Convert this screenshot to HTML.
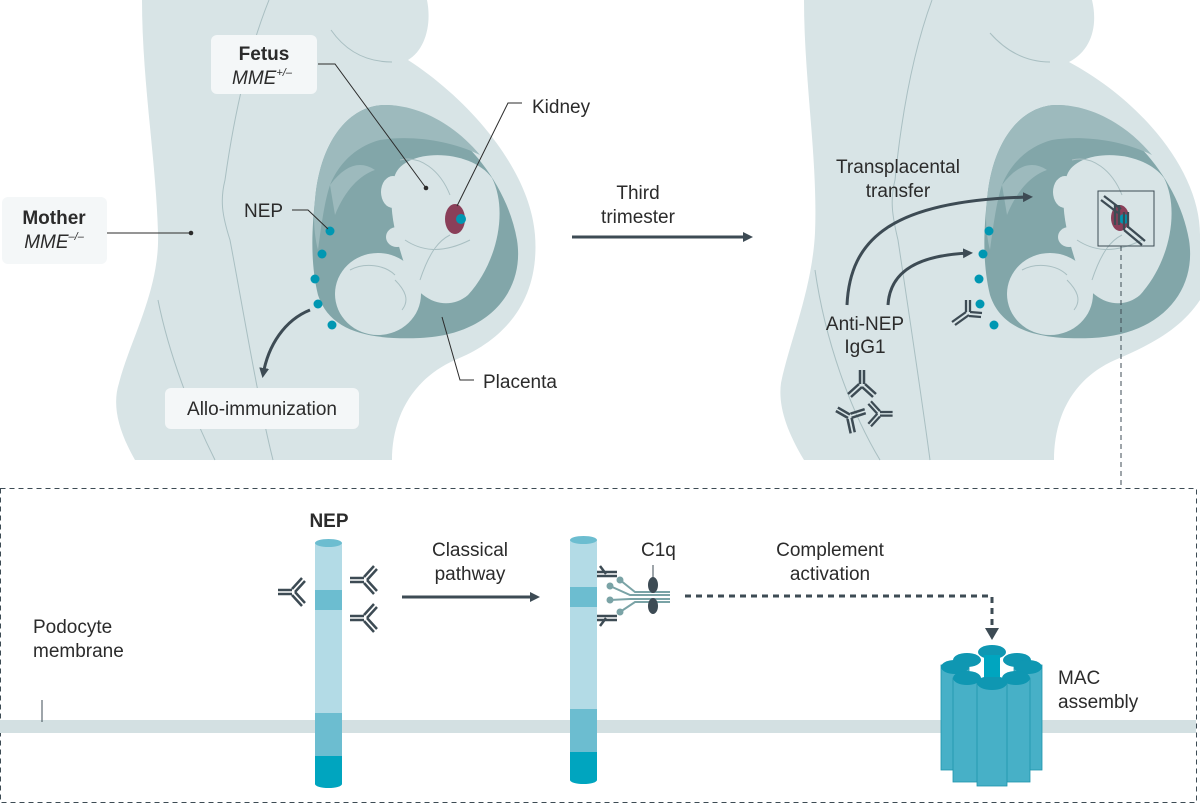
<!DOCTYPE html>
<html><head><meta charset="utf-8"><style>
html,body{margin:0;padding:0;background:#fff}
svg{display:block}
text{font-family:"Liberation Sans",sans-serif;fill:#2b2b2b;font-size:19px}
</style></head><body>
<svg width="1200" height="806" viewBox="0 0 1200 806" xmlns="http://www.w3.org/2000/svg">
<defs>
<marker id="ah" markerWidth="10" markerHeight="10" refX="7" refY="5" orient="auto" markerUnits="userSpaceOnUse"><path d="M0,0 L10,5 L0,10 Z" fill="#3d4b54"/></marker>
<g id="ab">
 <path d="M0,0 L0,-14 M4,0 L4,-14" stroke="#3d4b54" stroke-width="2.5"/>
 <path d="M-1,0 L-12,10 M2,3 L-9,13 M5,0 L16,10 M2,3 L13,13" stroke="#3d4b54" stroke-width="2.5"/>
</g>
<g id="uterus">
 <path d="M315,200 C320,140 350,105 385,105 C440,105 505,170 517,240 C525,290 490,335 420,338 C370,340 330,332 318,295 C310,262 312,228 315,200 Z" fill="#82a6a9"/>
 <path d="M315,200 C320,140 350,105 385,105 C420,105 455,125 480,155 C450,140 410,135 380,140 C360,145 340,160 330,185 C325,200 322,220 318,250 C314,235 313,215 315,200 Z" fill="#9dbabd"/>
 <path d="M330,185 C345,165 360,160 375,170 C360,175 345,190 335,215 Z" fill="#9dbabd"/>
 <path d="M395,175 C405,148 470,148 492,178 C508,210 498,262 468,295 C448,312 418,302 407,272 C398,245 385,205 395,175 Z" fill="#d8e4e6"/>
 <ellipse cx="378" cy="294" rx="43" ry="41" fill="#d8e4e6"/>
 <ellipse cx="393" cy="192" rx="12" ry="16" fill="#d8e4e6"/>
 <ellipse cx="397" cy="237" rx="11" ry="10" fill="#d8e4e6"/>
 <path d="M400,160 C420,155 440,170 450,195 M405,240 C420,250 440,255 470,240 M420,280 C430,250 440,240 450,235 M395,280 C405,290 410,300 402,310 M350,270 C365,262 385,265 395,275" fill="none" stroke="#a9bfc2" stroke-width="1"/>
</g>
</defs>

<!-- LEFT FIGURE -->
<path d="M142,0 L427,0 C432,25 425,50 408,60 C470,100 530,170 535,235 C540,300 505,340 455,360 C410,380 392,420 392,460 L135,460 C118,430 112,405 119,383 C130,340 160,290 158,233 C156,160 142,80 142,0 Z" fill="#d8e4e6"/>
<path d="M269,0 C245,60 232,130 225,180 C220,200 222,215 230,240 C245,320 258,400 273,460" fill="none" stroke="#a9bfc2" stroke-width="1"/>
<path d="M158,300 C170,360 195,420 215,460" fill="none" stroke="#a9bfc2" stroke-width="1"/>
<path d="M331,30 C345,50 365,62 392,62" fill="none" stroke="#a9bfc2" stroke-width="1"/>
<use href="#uterus"/>
<ellipse cx="455" cy="219" rx="10" ry="15" fill="#8a3f59"/>
<circle cx="461" cy="219" r="5" fill="#0097b2"/>
<g fill="#0097b2"><circle cx="330" cy="231" r="4.5"/><circle cx="322" cy="254" r="4.5"/><circle cx="315" cy="279" r="4.5"/><circle cx="318" cy="304" r="4.5"/><circle cx="332" cy="325" r="4.5"/></g>
<g stroke="#2b2b2b" stroke-width="1" fill="none">
<path d="M318,64 L335,64 L426,188"/><path d="M457,206 L508,103 L522,103"/>
<path d="M292,210 L308,210 L328,229"/><path d="M107,233 L191,233"/>
<path d="M442,317 L460,380 L474,380"/></g>
<circle cx="426" cy="188" r="2.3" fill="#2b2b2b"/><circle cx="191" cy="233" r="2.3" fill="#2b2b2b"/>
<path d="M310,310 C285,320 268,345 263,375" fill="none" stroke="#3d4b54" stroke-width="3" marker-end="url(#ah)"/>
<rect x="211" y="35" width="106" height="59" rx="6" fill="#f4f7f8"/>
<text x="264" y="60" text-anchor="middle" font-weight="bold">Fetus</text>
<text x="262" y="84" text-anchor="middle" font-style="italic">MME<tspan font-size="11" dy="-8">+/–</tspan></text>
<rect x="2" y="197" width="105" height="67" rx="6" fill="#f4f7f8"/>
<text x="54" y="224" text-anchor="middle" font-weight="bold">Mother</text>
<text x="54" y="248" text-anchor="middle" font-style="italic">MME<tspan font-size="11" dy="-8">–/–</tspan></text>
<rect x="165" y="388" width="194" height="41" rx="6" fill="#f4f7f8"/>
<text x="262" y="415" text-anchor="middle">Allo-immunization</text>
<text x="244" y="217">NEP</text>
<text x="532" y="113">Kidney</text>
<text x="483" y="388">Placenta</text>

<text x="638" y="199" text-anchor="middle">Third</text>
<text x="638" y="223" text-anchor="middle">trimester</text>
<line x1="572" y1="237" x2="750" y2="237" stroke="#3d4b54" stroke-width="3" marker-end="url(#ah)"/>

<!-- RIGHT FIGURE -->
<path d="M804,0 L1092,0 C1098,25 1092,50 1069,62 C1140,100 1200,170 1200,235 L1200,300 C1180,330 1150,345 1115,360 C1070,380 1054,420 1054,460 L804,460 C786,430 778,405 781,383 C790,340 812,290 815,233 C818,160 804,80 804,0 Z" fill="#d8e4e6"/>
<path d="M932,0 C910,60 900,130 895,180 C890,200 892,215 898,240 C910,320 922,400 930,460" fill="none" stroke="#a9bfc2" stroke-width="1"/>
<path d="M815,270 C825,340 850,410 880,460" fill="none" stroke="#a9bfc2" stroke-width="1"/>
<path d="M990,33 C1005,50 1025,62 1050,62" fill="none" stroke="#a9bfc2" stroke-width="1"/>
<use href="#uterus" transform="translate(672,0)"/>
<ellipse cx="1120" cy="218" rx="9" ry="13" fill="#8a3f59"/>
<circle cx="1124" cy="219" r="5" fill="#0097b2"/>
<rect x="1098" y="191" width="56" height="55" fill="none" stroke="#3d4b54" stroke-width="1"/>
<path d="M1101,200 L1118,213 M1104,196 L1121,209 M1115,205 L1115,225 M1119,205 L1119,225 M1124,230 L1142,245 M1127,226 L1145,241 M1124,230 L1124,212 M1128,228 L1128,212" stroke="#3d4b54" stroke-width="2.3"/>
<g fill="#0097b2"><circle cx="989" cy="231" r="4.5"/><circle cx="983" cy="254" r="4.5"/><circle cx="979" cy="279" r="4.5"/><circle cx="980" cy="304" r="4.5"/><circle cx="994" cy="325" r="4.5"/></g>
<path d="M966,300 L966,312 M970,300 L970,312 M966,312 L952,322 M969,315 L955,325 M970,312 L982,313 M969,316 L981,317" stroke="#3d4b54" stroke-width="2.3"/>
<path d="M847,305 C850,240 890,200 1030,197" fill="none" stroke="#3d4b54" stroke-width="3" marker-end="url(#ah)"/>
<path d="M888,305 C890,270 920,255 970,253" fill="none" stroke="#3d4b54" stroke-width="3" marker-end="url(#ah)"/>
<text x="898" y="173" text-anchor="middle">Transplacental</text>
<text x="898" y="197" text-anchor="middle">transfer</text>
<text x="865" y="330" text-anchor="middle">Anti-NEP</text>
<text x="865" y="353" text-anchor="middle">IgG1</text>
<use href="#ab" transform="translate(860,384)"/>
<use href="#ab" transform="translate(848,418) rotate(-60)"/>
<use href="#ab" transform="translate(880,412) rotate(90) scale(0.9)"/>
<line x1="1121" y1="246" x2="1121" y2="488" stroke="#3d4b54" stroke-width="1" stroke-dasharray="5,4"/>

<!-- BOTTOM PANEL -->
<rect x="0.5" y="488.5" width="1196" height="314" fill="none" stroke="#3d4b54" stroke-width="1" stroke-dasharray="5,4"/>
<rect x="0" y="720" width="1196" height="13" fill="#d3e0e2"/>
<line x1="42" y1="700" x2="42" y2="722" stroke="#3d4b54" stroke-width="1"/>
<text x="33" y="633">Podocyte</text>
<text x="33" y="657">membrane</text>

<rect x="315" y="543" width="27" height="240" fill="#b3dbe6"/>
<ellipse cx="328.5" cy="543" rx="13.5" ry="4" fill="#6cbdd0"/>
<rect x="315" y="590" width="27" height="20" fill="#6cbdd0"/>
<rect x="315" y="713" width="27" height="43" fill="#6cbdd0"/>
<rect x="315" y="756" width="27" height="28" fill="#00a5bf"/>
<ellipse cx="328.5" cy="784" rx="13.5" ry="4" fill="#00a5bf"/>
<text x="329" y="527" text-anchor="middle" font-weight="bold">NEP</text>
<use href="#ab" transform="translate(292,594) rotate(-90)"/>
<use href="#ab" transform="translate(364,578) rotate(-90) scale(-1,1)"/>
<use href="#ab" transform="translate(364,620) rotate(-90)"/>

<text x="470" y="556" text-anchor="middle">Classical</text>
<text x="470" y="580" text-anchor="middle">pathway</text>
<line x1="402" y1="597" x2="537" y2="597" stroke="#3d4b54" stroke-width="3" marker-end="url(#ah)"/>

<rect x="570" y="540" width="27" height="240" fill="#b3dbe6"/>
<ellipse cx="583.5" cy="540" rx="13.5" ry="4" fill="#6cbdd0"/>
<rect x="570" y="587" width="27" height="20" fill="#6cbdd0"/>
<rect x="570" y="709" width="27" height="43" fill="#6cbdd0"/>
<rect x="570" y="752" width="27" height="28" fill="#00a5bf"/>
<ellipse cx="583.5" cy="780" rx="13.5" ry="4" fill="#00a5bf"/>
<path d="M597,572 L617,572 M597,576 L617,576 M597,620 L617,620 M597,616 L617,616 M600,566 L606,574 M600,626 L606,618" stroke="#3d4b54" stroke-width="2.5"/>
<g stroke="#7aa3a6" stroke-width="2" fill="none">
<path d="M620,580 L635,592 L670,592 M610,586 L630,595 L670,595 M610,600 L630,599 L670,599 M620,612 L635,602 L670,602"/></g>
<g fill="#7aa3a6"><circle cx="620" cy="580" r="3.5"/><circle cx="610" cy="586" r="3.5"/><circle cx="610" cy="600" r="3.5"/><circle cx="620" cy="612" r="3.5"/></g>
<ellipse cx="653" cy="585" rx="5" ry="8" fill="#3d4b54"/>
<ellipse cx="653" cy="606" rx="5" ry="8" fill="#3d4b54"/>
<line x1="653" y1="565" x2="653" y2="577" stroke="#3d4b54" stroke-width="1"/>
<text x="641" y="556">C1q</text>

<text x="830" y="556" text-anchor="middle">Complement</text>
<text x="830" y="580" text-anchor="middle">activation</text>
<path d="M685,596 L992,596 L992,628" fill="none" stroke="#3d4b54" stroke-width="3" stroke-dasharray="6,5"/>
<path d="M985,628 L999,628 L992,640 Z" fill="#3d4b54"/>

<g>
<rect x="941" y="665" width="28" height="105" fill="#47b0c7" stroke="#1f95ad" stroke-width="0.8"/>
<rect x="1014" y="665" width="28" height="105" fill="#47b0c7" stroke="#1f95ad" stroke-width="0.8"/>
<rect x="953" y="678" width="28" height="104" fill="#47b0c7" stroke="#1f95ad" stroke-width="0.8"/>
<rect x="1002" y="678" width="28" height="104" fill="#47b0c7" stroke="#1f95ad" stroke-width="0.8"/>
<rect x="977" y="683" width="30" height="103" fill="#47b0c7" stroke="#1f95ad" stroke-width="0.8"/>
<g fill="#0f97b2">
<ellipse cx="992" cy="652" rx="14" ry="7"/><ellipse cx="967" cy="660" rx="14" ry="7"/><ellipse cx="1017" cy="660" rx="14" ry="7"/>
<ellipse cx="955" cy="667" rx="14" ry="7"/><ellipse cx="1028" cy="667" rx="14" ry="7"/>
<ellipse cx="967" cy="678" rx="14" ry="7"/><ellipse cx="1016" cy="678" rx="14" ry="7"/>
<ellipse cx="992" cy="683" rx="15" ry="7"/></g>
<rect x="984" y="655" width="16" height="22" fill="#00a5bf"/>
</g>
<text x="1058" y="684">MAC</text>
<text x="1058" y="708">assembly</text>
</svg>
</body></html>
